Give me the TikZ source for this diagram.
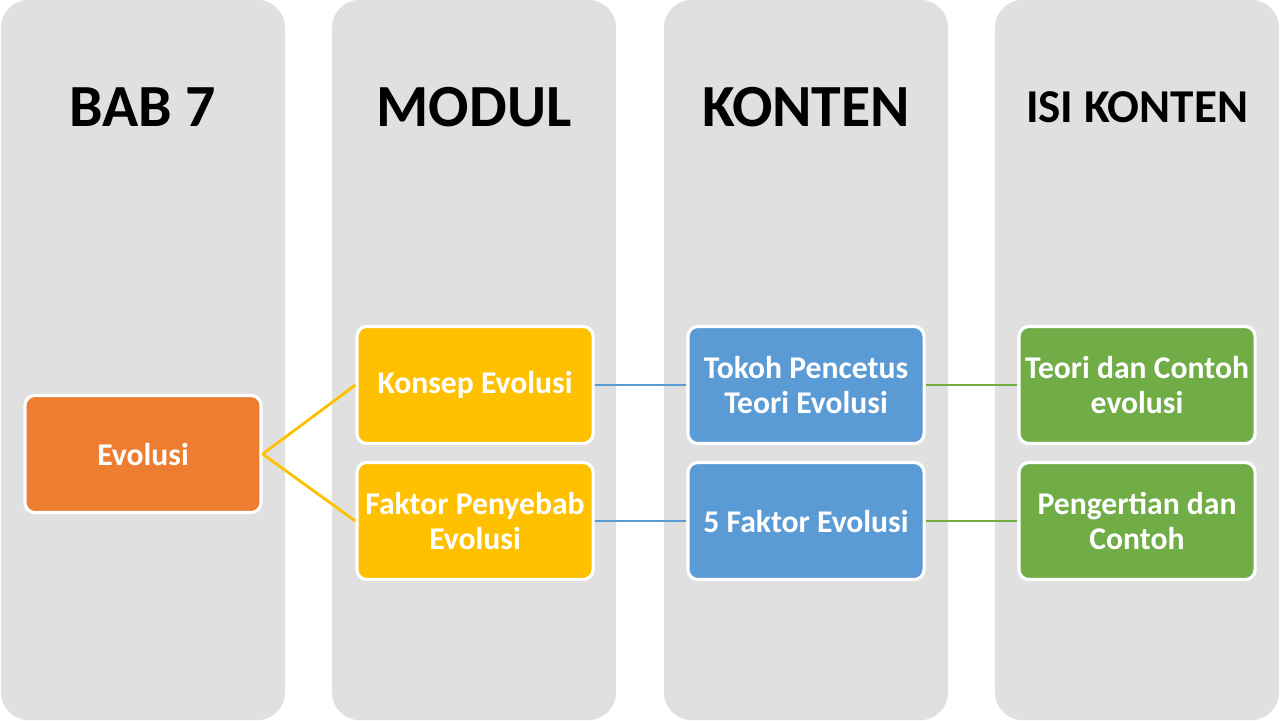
\documentclass[tikz,border=0pt]{standalone}
\usepackage{fontspec}
\setmainfont{Carlito}
\usepackage{tikz}
\usetikzlibrary{positioning}
\definecolor{evgray}{RGB}{224,224,224}
\definecolor{evorange}{RGB}{237,125,49}
\definecolor{evyellow}{RGB}{255,192,0}
\definecolor{evblue}{RGB}{91,155,213}
\definecolor{evgreen}{RGB}{112,173,71}

\begin{document}
\begin{tikzpicture}[
  x=0.01cm, y=-0.01cm,
  panel/.style={rounded corners=0.28cm, fill=evgray, draw=none,
    minimum width=2.84cm, minimum height=7.2cm, inner sep=0pt},
  head/.style={font=\fontsize{17}{21}\selectfont\bfseries, text=black},
  item/.style={rounded corners=0.1cm, draw=white, line width=0.9pt, align=center,
    minimum width=2.36cm, minimum height=1.17cm, inner sep=1pt, text=white,
    font=\fontsize{9}{10}\selectfont\bfseries},
  link/.style={line width=0.8pt}
]
  \useasboundingbox (0,0) rectangle (1280,720);

  % --- Background columns ---
  \node[panel] (pbab)    at (143,360)  {};
  \node[panel] (pmodul)  at (474,360)  {};
  \node[panel] (pkonten) at (806,360)  {};
  \node[panel] (pisi)    at (1137,360) {};

  % --- Column headings ---
  \node[head] (hbab)    at (143,107)  {BAB 7};
  \node[head] (hmodul)  at (474,107)  {MODUL};
  \node[head] (hkonten) at (806,107)  {KONTEN};
  \node[head, font=\fontsize{13.4}{16}\selectfont\bfseries]
              (hisi)    at (1137,107) {ISI KONTEN};

  % --- Boxes ---
  \node[item, fill=evorange] (evolusi) at (143,454)  {Evolusi};
  \node[item, fill=evyellow] (konsep)  at (475,385)  {Konsep Evolusi};
  \node[item, fill=evyellow] (faktor)  at (475,521)  {Faktor Penyebab\\Evolusi};
  \node[item, fill=evblue]   (tokoh)   at (806,385)  {Tokoh Pencetus\\Teori Evolusi};
  \node[item, fill=evblue]   (lima)    at (806,521)  {5 Faktor Evolusi};
  \node[item, fill=evgreen]  (teori)   at (1137,385) {Teori dan Contoh\\evolusi};
  \node[item, fill=evgreen]  (arti)    at (1137,521) {Pengertian dan\\Contoh};

  % --- Connectors ---
  \draw[link, evyellow] (evolusi.east) -- (konsep.west);
  \draw[link, evyellow] (evolusi.east) -- (faktor.west);
  \draw[link, evblue]   (konsep.east)  -- (tokoh.west);
  \draw[link, evblue]   (faktor.east)  -- (lima.west);
  \draw[link, evgreen]  (tokoh.east)   -- (teori.west);
  \draw[link, evgreen]  (lima.east)    -- (arti.west);
\end{tikzpicture}
\end{document}
